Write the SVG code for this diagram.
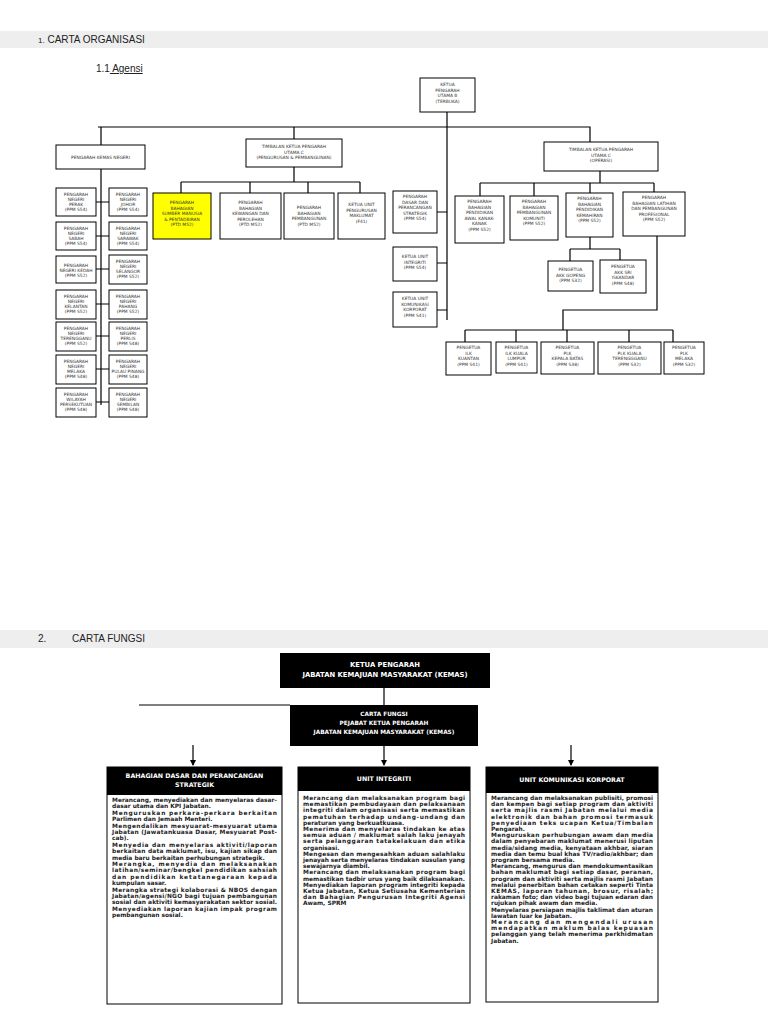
<svg xmlns="http://www.w3.org/2000/svg" width="768" height="1024" viewBox="0 0 768 1024">
<style>
.b{fill:#fff;stroke:#000;stroke-width:1}
.y{fill:#ffff00;stroke:#000;stroke-width:1}
.k{fill:#000}
.t{font-family:"DejaVu Sans",sans-serif;font-size:4.4px;fill:#333;text-anchor:middle}
.h{font-family:"Liberation Sans",sans-serif;font-size:10px;fill:#222}
.w{font-family:"DejaVu Sans",sans-serif;font-weight:bold;fill:#fff;text-anchor:middle}
.p{font-family:"DejaVu Sans",sans-serif;font-weight:bold;font-size:5.9px;fill:#222}
.c path,.c line{stroke:#000;stroke-width:1.2;fill:none}
</style>
<defs><marker id="a" viewBox="0 0 6 6" refX="5" refY="3" markerWidth="5" markerHeight="5" orient="auto"><path d="M0,0L6,3L0,6z"/></marker></defs>
<rect x="0" y="31" width="768" height="17" fill="#eeeeee"/>
<text class="h" x="38" y="43"><tspan font-size="8">1.</tspan>  CARTA ORGANISASI</text>
<text class="h" x="96" y="72">1.1<tspan text-decoration="underline">      Agensi</tspan></text>
<rect x="0" y="630" width="768" height="18" fill="#eeeeee"/>
<text class="h" x="38" y="642" font-size="8">2.</text><text class="h" x="72" y="642">CARTA FUNGSI</text>

<g class="c">
<path d="M447,112V320M98,127H447M447,127H590V142M294,127V139M101,127V145"/>
<path d="M101,169V405M96,202H109M96,236H109M96,269H109M96,304H109M96,336H109M96,369H109M96,402H109"/>
<path d="M294,167V182M181,182H360M181,182V193M250,182V193M308,182V193M360,182V193"/>
<path d="M437,212H447M437,263H447M437,310H447"/>
<path d="M600,171V183M480,183H654M480,183V196M534,183V196M590,183V193M654,183V192"/>
<path d="M590,237V249M570,249H620M570,249V261M620,249V260"/>
<path d="M657,236V310H563V330M465,330H673M465,330V342M516,330V342M567,330V342M629,330V342M673,330V342"/>
<path d="M384,688V746M139,705H290"/>
<line x1="193" y1="745" x2="193" y2="765" marker-end="url(#a)"/>
<line x1="384" y1="746" x2="384" y2="765" marker-end="url(#a)"/>
<line x1="571" y1="745" x2="571" y2="765" marker-end="url(#a)"/>
</g>

<g id="top"><rect class="b" x="420" y="78" width="55" height="34"/><text class="t" x="447.5" y="86"><tspan x="447.5">KETUA</tspan><tspan x="447.5" dy="5.5">PENGARAH</tspan><tspan x="447.5" dy="5.5">UTAMA B</tspan><tspan x="447.5" dy="5.5">(TERBUKA)</tspan></text></g>
<g id="negeri"><rect class="b" x="56" y="145" width="89" height="24"/><text class="t" x="100.5" y="159">PENGARAH KEMAS NEGERI</text></g>
<g id="tkp1"><rect class="b" x="246" y="139" width="96" height="28"/><text class="t" x="294" y="148"><tspan x="294">TIMBALAN KETUA PENGARAH</tspan><tspan x="294" dy="5.5">UTAMA C</tspan><tspan x="294" dy="5.5">(PENGURUSAN &amp; PEMBANGUNAN)</tspan></text></g>
<g id="tkp2"><rect class="b" x="544" y="142" width="114" height="29"/><text class="t" x="601" y="151"><tspan x="601">TIMBALAN KETUA PENGARAH</tspan><tspan x="601" dy="5.5">UTAMA C</tspan><tspan x="601" dy="5.5">(OPERASI)</tspan></text></g>

<g id="s1"><rect class="b" x="56" y="188" width="40" height="28"/><text class="t" x="76" y="196" font-size="3.6"><tspan x="76">PENGARAH</tspan><tspan x="76" dy="5">NEGERI</tspan><tspan x="76" dy="5">PERAK</tspan><tspan x="76" dy="5">(PPM S54)</tspan></text></g>
<g id="s2"><rect class="b" x="56" y="222" width="40" height="28"/><text class="t" x="76" y="230" font-size="3.6"><tspan x="76">PENGARAH</tspan><tspan x="76" dy="5">NEGERI</tspan><tspan x="76" dy="5">SABAH</tspan><tspan x="76" dy="5">(PPM S54)</tspan></text></g>
<g id="s3"><rect class="b" x="56" y="256" width="40" height="27"/><text class="t" x="76" y="267" font-size="3.6"><tspan x="76">PENGARAH</tspan><tspan x="76" dy="5">NEGERI KEDAH</tspan><tspan x="76" dy="5">(PPM S52)</tspan></text></g>
<g id="s4"><rect class="b" x="56" y="290" width="40" height="29"/><text class="t" x="76" y="298" font-size="3.6"><tspan x="76">PENGARAH</tspan><tspan x="76" dy="5">NEGERI</tspan><tspan x="76" dy="5">KELANTAN</tspan><tspan x="76" dy="5">(PPM S52)</tspan></text></g>
<g id="s5"><rect class="b" x="56" y="322" width="40" height="29"/><text class="t" x="76" y="330" font-size="3.6"><tspan x="76">PENGARAH</tspan><tspan x="76" dy="5">NEGERI</tspan><tspan x="76" dy="5">TERENGGANU</tspan><tspan x="76" dy="5">(PPM S52)</tspan></text></g>
<g id="s6"><rect class="b" x="56" y="355" width="40" height="29"/><text class="t" x="76" y="363" font-size="3.6"><tspan x="76">PENGARAH</tspan><tspan x="76" dy="5">NEGERI</tspan><tspan x="76" dy="5">MELAKA</tspan><tspan x="76" dy="5">(PPM S48)</tspan></text></g>
<g id="s7"><rect class="b" x="56" y="388" width="40" height="29"/><text class="t" x="76" y="396" font-size="3.6"><tspan x="76">PENGARAH</tspan><tspan x="76" dy="5">WILAYAH</tspan><tspan x="76" dy="5">PERSEKUTUAN</tspan><tspan x="76" dy="5">(PPM S48)</tspan></text></g>
<g id="s8"><rect class="b" x="109" y="188" width="38" height="28"/><text class="t" x="128" y="196" font-size="3.6"><tspan x="128">PENGARAH</tspan><tspan x="128" dy="5">NEGERI</tspan><tspan x="128" dy="5">JOHOR</tspan><tspan x="128" dy="5">(PPM S54)</tspan></text></g>
<g id="s9"><rect class="b" x="109" y="222" width="38" height="28"/><text class="t" x="128" y="230" font-size="3.6"><tspan x="128">PENGARAH</tspan><tspan x="128" dy="5">NEGERI</tspan><tspan x="128" dy="5">SARAWAK</tspan><tspan x="128" dy="5">(PPM S54)</tspan></text></g>
<g id="s10"><rect class="b" x="109" y="255" width="38" height="29"/><text class="t" x="128" y="263" font-size="3.6"><tspan x="128">PENGARAH</tspan><tspan x="128" dy="5">NEGERI</tspan><tspan x="128" dy="5">SELANGOR</tspan><tspan x="128" dy="5">(PPM S52)</tspan></text></g>
<g id="s11"><rect class="b" x="109" y="290" width="38" height="29"/><text class="t" x="128" y="298" font-size="3.6"><tspan x="128">PENGARAH</tspan><tspan x="128" dy="5">NEGERI</tspan><tspan x="128" dy="5">PAHANG</tspan><tspan x="128" dy="5">(PPM S52)</tspan></text></g>
<g id="s12"><rect class="b" x="109" y="322" width="38" height="29"/><text class="t" x="128" y="330" font-size="3.6"><tspan x="128">PENGARAH</tspan><tspan x="128" dy="5">NEGERI</tspan><tspan x="128" dy="5">PERLIS</tspan><tspan x="128" dy="5">(PPM S48)</tspan></text></g>
<g id="s13"><rect class="b" x="109" y="355" width="38" height="29"/><text class="t" x="128" y="363" font-size="3.6"><tspan x="128">PENGARAH</tspan><tspan x="128" dy="5">NEGERI</tspan><tspan x="128" dy="5">PULAU PINANG</tspan><tspan x="128" dy="5">(PPM S48)</tspan></text></g>
<g id="s14"><rect class="b" x="109" y="388" width="38" height="29"/><text class="t" x="128" y="396" font-size="3.6"><tspan x="128">PENGARAH</tspan><tspan x="128" dy="5">NEGERI</tspan><tspan x="128" dy="5">SEMBILAN</tspan><tspan x="128" dy="5">(PPM S48)</tspan></text></g>

<g id="bsm"><rect class="y" x="153" y="193" width="58" height="46"/><text class="t" x="182" y="204"><tspan x="182">PENGARAH</tspan><tspan x="182" dy="5.5">BAHAGIAN</tspan><tspan x="182" dy="5.5">SUMBER MANUSIA</tspan><tspan x="182" dy="5.5">&amp; PENTADBIRAN</tspan><tspan x="182" dy="5.5">(PTD M52)</tspan></text></g>
<g id="bkp"><rect class="b" x="220" y="193" width="61" height="46"/><text class="t" x="250.5" y="204"><tspan x="250.5">PENGARAH</tspan><tspan x="250.5" dy="5.5">BAHAGIAN</tspan><tspan x="250.5" dy="5.5">KEWANGAN  DAN</tspan><tspan x="250.5" dy="5.5">PEROLEHAN</tspan><tspan x="250.5" dy="5.5">(PTD M52)</tspan></text></g>
<g id="bp"><rect class="b" x="284" y="193" width="50" height="46"/><text class="t" x="309" y="209"><tspan x="309">PENGARAH</tspan><tspan x="309" dy="5.5">BAHAGIAN</tspan><tspan x="309" dy="5.5">PEMBANGUNAN</tspan><tspan x="309" dy="5.5">(PTD M52)</tspan></text></g>
<g id="upm"><rect class="b" x="338" y="193" width="47" height="46"/><text class="t" x="361.5" y="206"><tspan x="361.5">KETUA UNIT</tspan><tspan x="361.5" dy="5.5">PENGURUSAN</tspan><tspan x="361.5" dy="5.5">MAKLUMAT</tspan><tspan x="361.5" dy="5.5">(F41)</tspan></text></g>
<g id="dps"><rect class="b" x="393" y="191" width="44" height="42"/><text class="t" x="415" y="198"><tspan x="415">PENGARAH</tspan><tspan x="415" dy="5.5">DASAR DAN</tspan><tspan x="415" dy="5.5">PERANCANGAN</tspan><tspan x="415" dy="5.5">STRATEGIK</tspan><tspan x="415" dy="5.5">(PPM S54)</tspan></text></g>
<g id="ui"><rect class="b" x="393" y="247" width="44" height="34"/><text class="t" x="415" y="258"><tspan x="415">KETUA UNIT</tspan><tspan x="415" dy="5.5">INTEGRITI</tspan><tspan x="415" dy="5.5">(PPM S54)</tspan></text></g>
<g id="ukk"><rect class="b" x="393" y="292" width="44" height="35"/><text class="t" x="415" y="300"><tspan x="415">KETUA UNIT</tspan><tspan x="415" dy="5.5">KOMUNIKASI</tspan><tspan x="415" dy="5.5">KORPORAT</tspan><tspan x="415" dy="5.5">(PPM S41)</tspan></text></g>

<g id="pak"><rect class="b" x="455" y="196" width="49" height="47"/><text class="t" x="479.5" y="203"><tspan x="479.5">PENGARAH</tspan><tspan x="479.5" dy="5.5">BAHAGIAN</tspan><tspan x="479.5" dy="5.5">PENDIDIKAN</tspan><tspan x="479.5" dy="5.5">AWAL KANAK-</tspan><tspan x="479.5" dy="5.5">KANAK</tspan><tspan x="479.5" dy="5.5">(PPM S52)</tspan></text></g>
<g id="pk"><rect class="b" x="510" y="196" width="48" height="44"/><text class="t" x="534" y="203"><tspan x="534">PENGARAH</tspan><tspan x="534" dy="5.5">BAHAGIAN</tspan><tspan x="534" dy="5.5">PEMBANGUNAN</tspan><tspan x="534" dy="5.5">KOMUNITI</tspan><tspan x="534" dy="5.5">(PPM S52)</tspan></text></g>
<g id="pkm"><rect class="b" x="566" y="193" width="47" height="44"/><text class="t" x="589.5" y="200"><tspan x="589.5">PENGARAH</tspan><tspan x="589.5" dy="5.5">BAHAGIAN</tspan><tspan x="589.5" dy="5.5">PENDIDIKAN</tspan><tspan x="589.5" dy="5.5">KEMAHIRAN</tspan><tspan x="589.5" dy="5.5">(PPM S52)</tspan></text></g>
<g id="plp"><rect class="b" x="623" y="192" width="62" height="44"/><text class="t" x="654" y="199"><tspan x="654">PENGARAH</tspan><tspan x="654" dy="5.5">BAHAGIAN LATIHAN</tspan><tspan x="654" dy="5.5">DAN PEMBANGUNAN</tspan><tspan x="654" dy="5.5">PROFESIONAL</tspan><tspan x="654" dy="5.5">(PPM S52)</tspan></text></g>
<g id="gop"><rect class="b" x="548" y="261" width="45" height="30"/><text class="t" x="570.5" y="271"><tspan x="570.5">PENGETUA</tspan><tspan x="570.5" dy="5.5">AKK GOPENG</tspan><tspan x="570.5" dy="5.5">(PPM S32)</tspan></text></g>
<g id="sri"><rect class="b" x="600" y="260" width="46" height="33"/><text class="t" x="623" y="268"><tspan x="623">PENGETUA</tspan><tspan x="623" dy="5.5">AKK SRI</tspan><tspan x="623" dy="5.5">ISKANDAR</tspan><tspan x="623" dy="5.5">(PPM S48)</tspan></text></g>
<g id="kua"><rect class="b" x="446" y="342" width="45" height="33"/><text class="t" x="468.5" y="349"><tspan x="468.5">PENGETUA</tspan><tspan x="468.5" dy="5.5">ILK</tspan><tspan x="468.5" dy="5.5">KUANTAN</tspan><tspan x="468.5" dy="5.5">(PPM  S41)</tspan></text></g>
<g id="kl"><rect class="b" x="496" y="342" width="41" height="31"/><text class="t" x="516.5" y="349"><tspan x="516.5">PENGETUA</tspan><tspan x="516.5" dy="5.5">ILK  KUALA</tspan><tspan x="516.5" dy="5.5">LUMPUR</tspan><tspan x="516.5" dy="5.5">(PPM  S41)</tspan></text></g>
<g id="kb"><rect class="b" x="541" y="342" width="53" height="32"/><text class="t" x="567.5" y="349"><tspan x="567.5">PENGETUA</tspan><tspan x="567.5" dy="5.5">PLK</tspan><tspan x="567.5" dy="5.5">KEPALA BATAS</tspan><tspan x="567.5" dy="5.5">(PPM S38)</tspan></text></g>
<g id="trg"><rect class="b" x="598" y="342" width="63" height="32"/><text class="t" x="629.5" y="349"><tspan x="629.5">PENGETUA</tspan><tspan x="629.5" dy="5.5">PLK KUALA</tspan><tspan x="629.5" dy="5.5">TERENGGGANU</tspan><tspan x="629.5" dy="5.5">(PPM  S32)</tspan></text></g>
<g id="mlk"><rect class="b" x="664" y="342" width="40" height="32"/><text class="t" x="684" y="349"><tspan x="684">PENGETUA</tspan><tspan x="684" dy="5.5">PLK</tspan><tspan x="684" dy="5.5">MELAKA</tspan><tspan x="684" dy="5.5">(PPM  S32)</tspan></text></g>

<g id="kp"><rect class="k" x="280" y="653" width="210" height="35"/><text class="w" font-size="6.8" x="385" y="667"><tspan x="385">KETUA PENGARAH</tspan><tspan x="385" dy="10">JABATAN KEMAJUAN MASYARAKAT (KEMAS)</tspan></text></g>
<g id="cf"><rect class="k" x="290" y="705" width="188" height="41"/><text class="w" font-size="5.8" x="384" y="716"><tspan x="384">CARTA FUNGSI</tspan><tspan x="384" dy="9">PEJABAT KETUA PENGARAH</tspan><tspan x="384" dy="9">JABATAN KEMAJUAN MASYARAKAT (KEMAS)</tspan></text></g>

<g id="col1"><rect class="b" x="107" y="767" width="175" height="237"/><rect class="k" x="107" y="767" width="175" height="28"/>
<text class="w" font-size="6.3" x="194.5" y="778"><tspan x="194.5">BAHAGIAN DASAR DAN PERANCANGAN</tspan><tspan x="194.5" dy="9">STRATEGIK</tspan></text>
<g class="p">
<text x="112" y="802" textLength="165" lengthAdjust="spacing">Merancang, menyediakan dan menyelaras dasar-</text>
<text x="112" y="808.4">dasar utama dan KPI Jabatan.</text>
<text x="112" y="814.8" textLength="165" lengthAdjust="spacing">Menguruskan      perkara-perkara      berkaitan</text>
<text x="112" y="821.2">Parlimen dan Jemaah Menteri.</text>
<text x="112" y="827.6" textLength="165" lengthAdjust="spacing">Mengendalikan    mesyuarat-mesyuarat    utama</text>
<text x="112" y="834" textLength="165" lengthAdjust="spacing">Jabatan (Jawatankuasa Dasar, Mesyuarat Post-</text>
<text x="112" y="840.4">cab).</text>
<text x="112" y="846.8" textLength="165" lengthAdjust="spacing">Menyedia   dan   menyelaras   aktiviti/laporan</text>
<text x="112" y="853.2" textLength="165" lengthAdjust="spacing">berkaitan data maklumat, isu, kajian sikap dan</text>
<text x="112" y="859.6">media baru berkaitan perhubungan strategik.</text>
<text x="112" y="866" textLength="165" lengthAdjust="spacing">Merangka,   menyedia   dan   melaksanakan</text>
<text x="112" y="872.4" textLength="165" lengthAdjust="spacing">latihan/seminar/bengkel pendidikan sahsiah</text>
<text x="112" y="878.8" textLength="165" lengthAdjust="spacing">dan   pendidikan   ketatanegaraan   kepada</text>
<text x="112" y="885.2">kumpulan sasar.</text>
<text x="112" y="891.6" textLength="165" lengthAdjust="spacing">Merangka strategi kolaborasi &amp; NBOS dengan</text>
<text x="112" y="898" textLength="165" lengthAdjust="spacing">Jabatan/agensi/NGO bagi tujuan pembangunan</text>
<text x="112" y="904.4" textLength="165" lengthAdjust="spacing">sosial dan aktiviti kemasyarakatan sektor sosial.</text>
<text x="112" y="910.8" textLength="165" lengthAdjust="spacing">Menyediakan  laporan  kajian  impak  program</text>
<text x="112" y="917.2">pembangunan sosial.</text>
</g></g>

<g id="col2"><rect class="b" x="298" y="767" width="172" height="236"/><rect class="k" x="298" y="767" width="172" height="24"/>
<text class="w" font-size="6.3" x="384" y="781">UNIT INTEGRITI</text>
<g class="p">
<text x="303" y="800" textLength="162" lengthAdjust="spacing">Merancang dan melaksanakan program bagi</text>
<text x="303" y="806.2" textLength="162" lengthAdjust="spacing">memastikan pembudayaan dan pelaksanaan</text>
<text x="303" y="812.4" textLength="162" lengthAdjust="spacing">integriti dalam organisasi serta memastikan</text>
<text x="303" y="818.6" textLength="162" lengthAdjust="spacing">pematuhan  terhadap  undang-undang  dan</text>
<text x="303" y="824.8">peraturan yang berkuatkuasa.</text>
<text x="303" y="831" textLength="162" lengthAdjust="spacing">Menerima dan menyelaras tindakan ke atas</text>
<text x="303" y="837.2" textLength="162" lengthAdjust="spacing">semua aduan / maklumat salah laku jenayah</text>
<text x="303" y="843.4" textLength="162" lengthAdjust="spacing">serta  pelanggaran  tatakelakuan  dan  etika</text>
<text x="303" y="849.6">organisasi.</text>
<text x="303" y="855.8" textLength="162" lengthAdjust="spacing">Mengesan dan mengesahkan aduan salahlaku</text>
<text x="303" y="862" textLength="162" lengthAdjust="spacing">jenayah serta menyelaras tindakan susulan yang</text>
<text x="303" y="868.2">sewajarnya diambil.</text>
<text x="303" y="874.4" textLength="162" lengthAdjust="spacing">Merancang dan melaksanakan program bagi</text>
<text x="303" y="880.6" textLength="162" lengthAdjust="spacing">memastikan tadbir urus yang baik dilaksanakan.</text>
<text x="303" y="886.8" textLength="162" lengthAdjust="spacing">Menyediakan laporan program integriti kepada</text>
<text x="303" y="893" textLength="162" lengthAdjust="spacing">Ketua Jabatan, Ketua Setiusaha Kementerian</text>
<text x="303" y="899.2" textLength="162" lengthAdjust="spacing">dan  Bahagian  Pengurusan  Integriti  Agensi</text>
<text x="303" y="905.4">Awam, SPRM</text>
</g></g>

<g id="col3"><rect class="b" x="486" y="767" width="172" height="235"/><rect class="k" x="486" y="767" width="172" height="26"/>
<text class="w" font-size="6.3" x="572" y="782">UNIT KOMUNIKASI KORPORAT</text>
<g class="p">
<text x="491" y="800" textLength="162" lengthAdjust="spacing">Merancang dan melaksanakan publisiti, promosi</text>
<text x="491" y="806.2" textLength="162" lengthAdjust="spacing">dan kempen bagi setiap program dan aktiviti</text>
<text x="491" y="812.4" textLength="162" lengthAdjust="spacing">serta majlis rasmi Jabatan melalui media</text>
<text x="491" y="818.6" textLength="162" lengthAdjust="spacing">elektronik   dan   bahan   promosi   termasuk</text>
<text x="491" y="824.8" textLength="162" lengthAdjust="spacing">penyediaan   teks   ucapan   Ketua/Timbalan</text>
<text x="491" y="831">Pengarah.</text>
<text x="491" y="837.2" textLength="162" lengthAdjust="spacing">Menguruskan perhubungan awam dan media</text>
<text x="491" y="843.4" textLength="162" lengthAdjust="spacing">dalam penyebaran maklumat menerusi liputan</text>
<text x="491" y="849.6" textLength="162" lengthAdjust="spacing">media/sidang media, kenyataan akhbar, siaran</text>
<text x="491" y="855.8" textLength="162" lengthAdjust="spacing">media dan temu bual khas TV/radio/akhbar; dan</text>
<text x="491" y="862">program bersama media.</text>
<text x="491" y="868.2" textLength="162" lengthAdjust="spacing">Merancang, mengurus dan mendokumentasikan</text>
<text x="491" y="874.4" textLength="162" lengthAdjust="spacing">bahan maklumat bagi setiap dasar, peranan,</text>
<text x="491" y="880.6" textLength="162" lengthAdjust="spacing">program dan aktiviti serta majlis rasmi Jabatan</text>
<text x="491" y="886.8" textLength="162" lengthAdjust="spacing">melalui penerbitan bahan cetakan seperti Tinta</text>
<text x="491" y="893" textLength="162" lengthAdjust="spacing">KEMAS,   laporan   tahunan,   brosur,   risalah;</text>
<text x="491" y="899.2" textLength="162" lengthAdjust="spacing">rakaman foto; dan video bagi tujuan edaran dan</text>
<text x="491" y="905.4">rujukan pihak awam dan media.</text>
<text x="491" y="911.6" textLength="162" lengthAdjust="spacing">Menyelaras persiapan majlis taklimat dan aturan</text>
<text x="491" y="917.8">lawatan luar ke Jabatan.</text>
<text x="491" y="924" textLength="162" lengthAdjust="spacing">Merancang     dan     mengendali     urusan</text>
<text x="491" y="930.2" textLength="162" lengthAdjust="spacing">mendapatkan   maklum   balas   kepuasan</text>
<text x="491" y="936.4" textLength="162" lengthAdjust="spacing">pelanggan yang telah menerima perkhidmatan</text>
<text x="491" y="942.6">Jabatan.</text>
</g></g>
</svg>
